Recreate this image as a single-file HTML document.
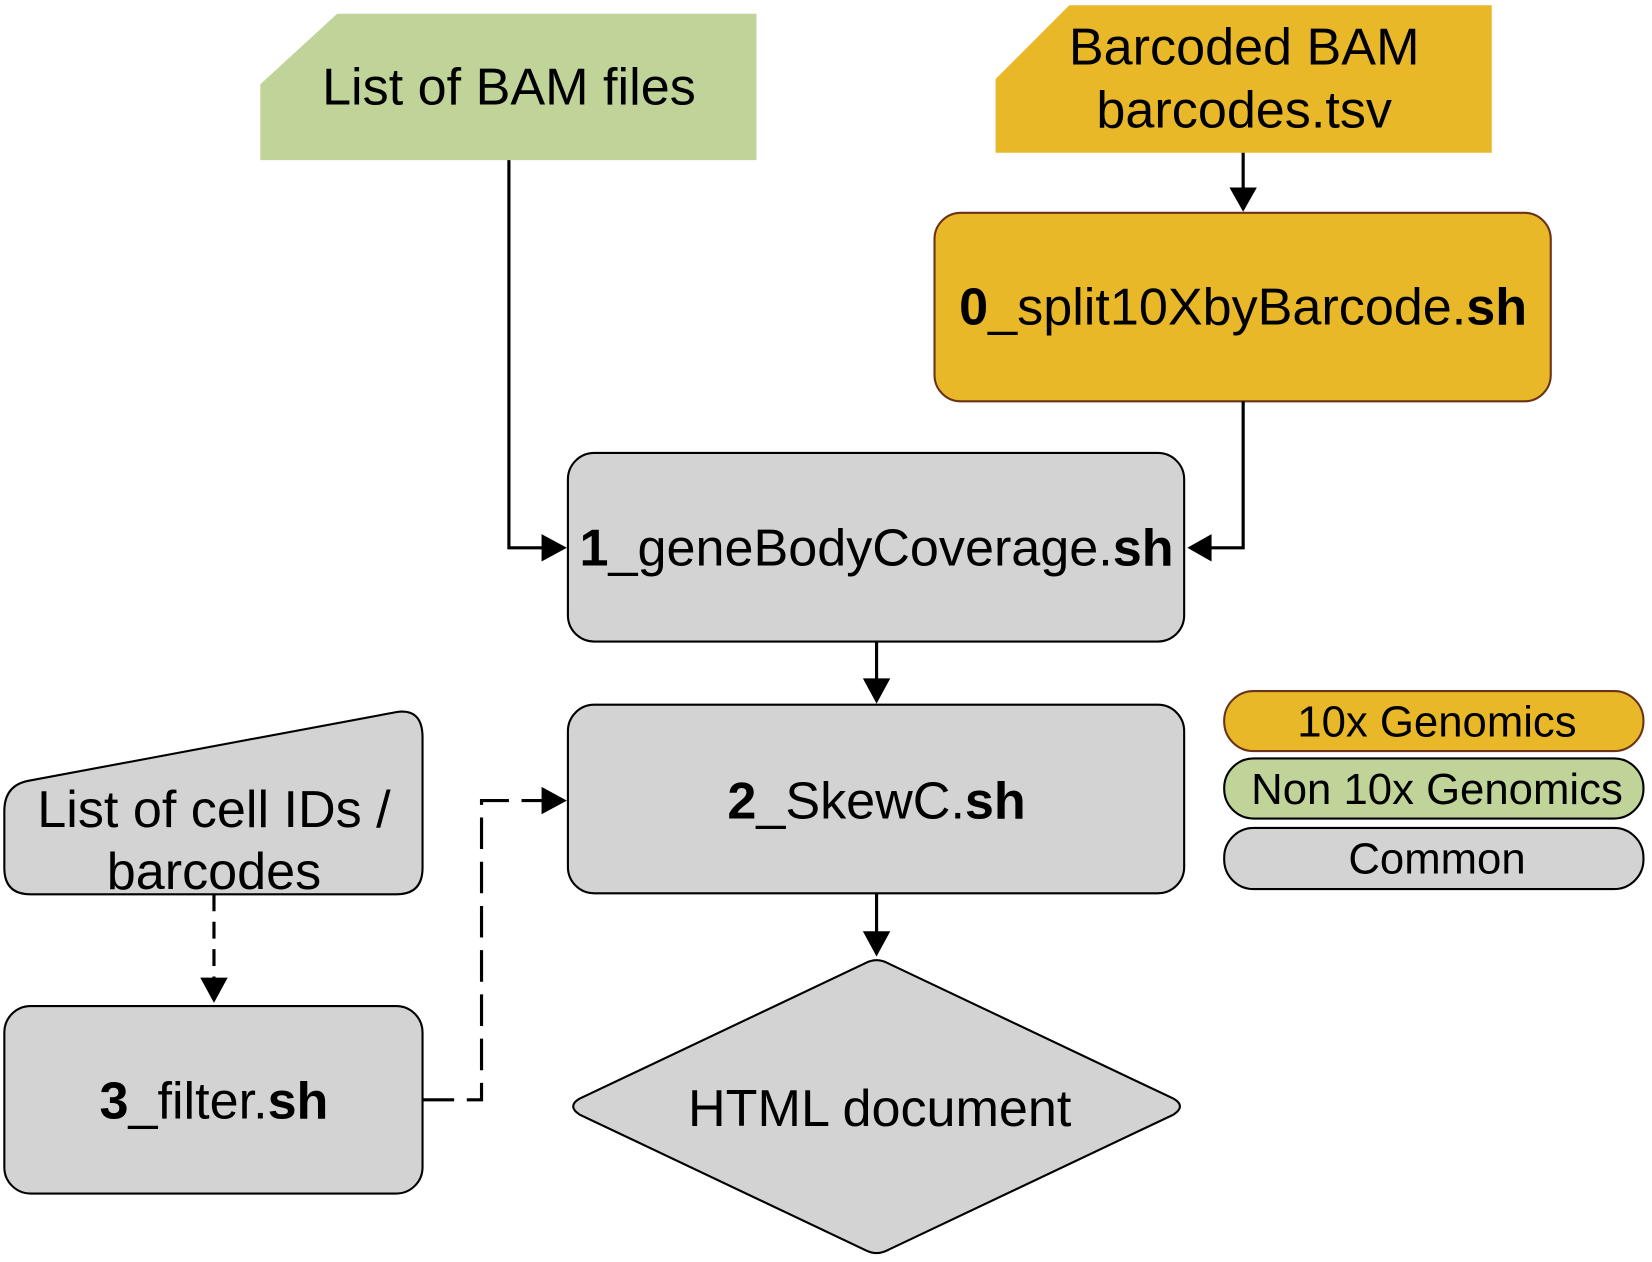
<!DOCTYPE html>
<html><head><meta charset="utf-8"><style>
html,body{margin:0;padding:0;background:#fff;}
svg{display:block;}
text{font-family:"Liberation Sans",Arial,sans-serif;fill:#000;}
</style></head><body>
<svg width="1652" height="1262" viewBox="0 0 1568 1198" xmlns="http://www.w3.org/2000/svg">
<!-- List of BAM files -->
<polygon points="247,80 320,13 718,13 718,152 247,152" fill="#C0D398"/>
<text x="483" y="99" font-size="49.5" text-anchor="middle">List of BAM files</text>
<!-- Barcoded BAM -->
<polygon points="945,75 1015,5 1416,5 1416,145 945,145" fill="#E8B828"/>
<text x="1181" y="61" font-size="49.5" text-anchor="middle">Barcoded BAM</text>
<text x="1181" y="121" font-size="49.5" text-anchor="middle">barcodes.tsv</text>
<line x1="1180" y1="145" x2="1180" y2="180" stroke="#000" stroke-width="3"/>
<polygon points="1167,178 1193,178 1180,201" fill="#000"/>
<!-- 0 split -->
<rect x="887" y="202" width="585" height="179" rx="25" fill="#E8B828" stroke="#6b3318" stroke-width="2"/>
<text x="1180" y="308" font-size="49.5" text-anchor="middle"><tspan font-weight="bold">0</tspan>_split10XbyBarcode.<tspan font-weight="bold">sh</tspan></text>
<polyline points="1180,381 1180,520 1148,520" fill="none" stroke="#000" stroke-width="3"/>
<polygon points="1150,507 1150,533 1127,520" fill="#000"/>
<polyline points="483,152 483,520 516,520" fill="none" stroke="#000" stroke-width="3"/>
<polygon points="514,507 514,533 538,520" fill="#000"/>
<!-- 1 box -->
<rect x="539" y="430" width="585" height="179" rx="25" fill="#D3D3D3" stroke="#000" stroke-width="2"/>
<text x="832" y="537" font-size="49.5" text-anchor="middle"><tspan font-weight="bold">1</tspan>_geneBodyCoverage.<tspan font-weight="bold">sh</tspan></text>
<line x1="832" y1="609" x2="832" y2="646" stroke="#000" stroke-width="3"/>
<polygon points="819,644 845,644 832,668" fill="#000"/>
<!-- 2 box -->
<rect x="539" y="669" width="585" height="179" rx="25" fill="#D3D3D3" stroke="#000" stroke-width="2"/>
<text x="832" y="777" font-size="49.5" text-anchor="middle"><tspan font-weight="bold">2</tspan>_SkewC.<tspan font-weight="bold">sh</tspan></text>
<line x1="832" y1="848" x2="832" y2="886" stroke="#000" stroke-width="3"/>
<polygon points="819,884 845,884 832,908" fill="#000"/>
<!-- diamond -->
<path d="M822,914 Q832,909 842,914 L1114,1043 Q1126,1050 1114,1058 L842,1187 Q832,1192 822,1187 L550,1058 Q538,1050 550,1043 Z" fill="#D3D3D3" stroke="#000" stroke-width="2"/>
<text x="835" y="1069" font-size="49.5" text-anchor="middle">HTML document</text>
<!-- List of cell IDs -->
<path d="M4,770 Q4,745 28,741 L376,676 Q401,672 401,700 L401,824 Q401,849 376,849 L29,849 Q4,849 4,824 Z" fill="#D3D3D3" stroke="#000" stroke-width="2"/>
<text x="203" y="785" font-size="49.5" text-anchor="middle">List of cell IDs /</text>
<text x="203" y="844" font-size="49.5" text-anchor="middle">barcodes</text>
<line x1="203" y1="849" x2="203" y2="930" stroke="#000" stroke-width="3" stroke-dasharray="16,10"/>
<polygon points="190,928 216,928 203,952" fill="#000"/>
<!-- 3 filter -->
<rect x="4" y="955" width="397" height="178" rx="25" fill="#D3D3D3" stroke="#000" stroke-width="2"/>
<text x="203" y="1062" font-size="49.5" text-anchor="middle"><tspan font-weight="bold">3</tspan>_filter.<tspan font-weight="bold">sh</tspan></text>
<polyline points="401,1044 457,1044 457,760 516,760" fill="none" stroke="#000" stroke-width="3" stroke-dasharray="30,12"/>
<polygon points="514,747 514,773 538,760" fill="#000"/>
<!-- legend -->
<rect x="1162" y="656" width="398" height="57" rx="28" fill="#E8B828" stroke="#6b3318" stroke-width="2"/>
<text x="1364" y="699" font-size="41.5" text-anchor="middle">10x Genomics</text>
<rect x="1162" y="720" width="398" height="57" rx="28" fill="#C0D398" stroke="#000" stroke-width="2"/>
<text x="1364" y="763" font-size="41.5" text-anchor="middle">Non 10x Genomics</text>
<rect x="1162" y="786" width="398" height="58" rx="28" fill="#D3D3D3" stroke="#000" stroke-width="2"/>
<text x="1364" y="829" font-size="41.5" text-anchor="middle">Common</text>
</svg>
</body></html>
